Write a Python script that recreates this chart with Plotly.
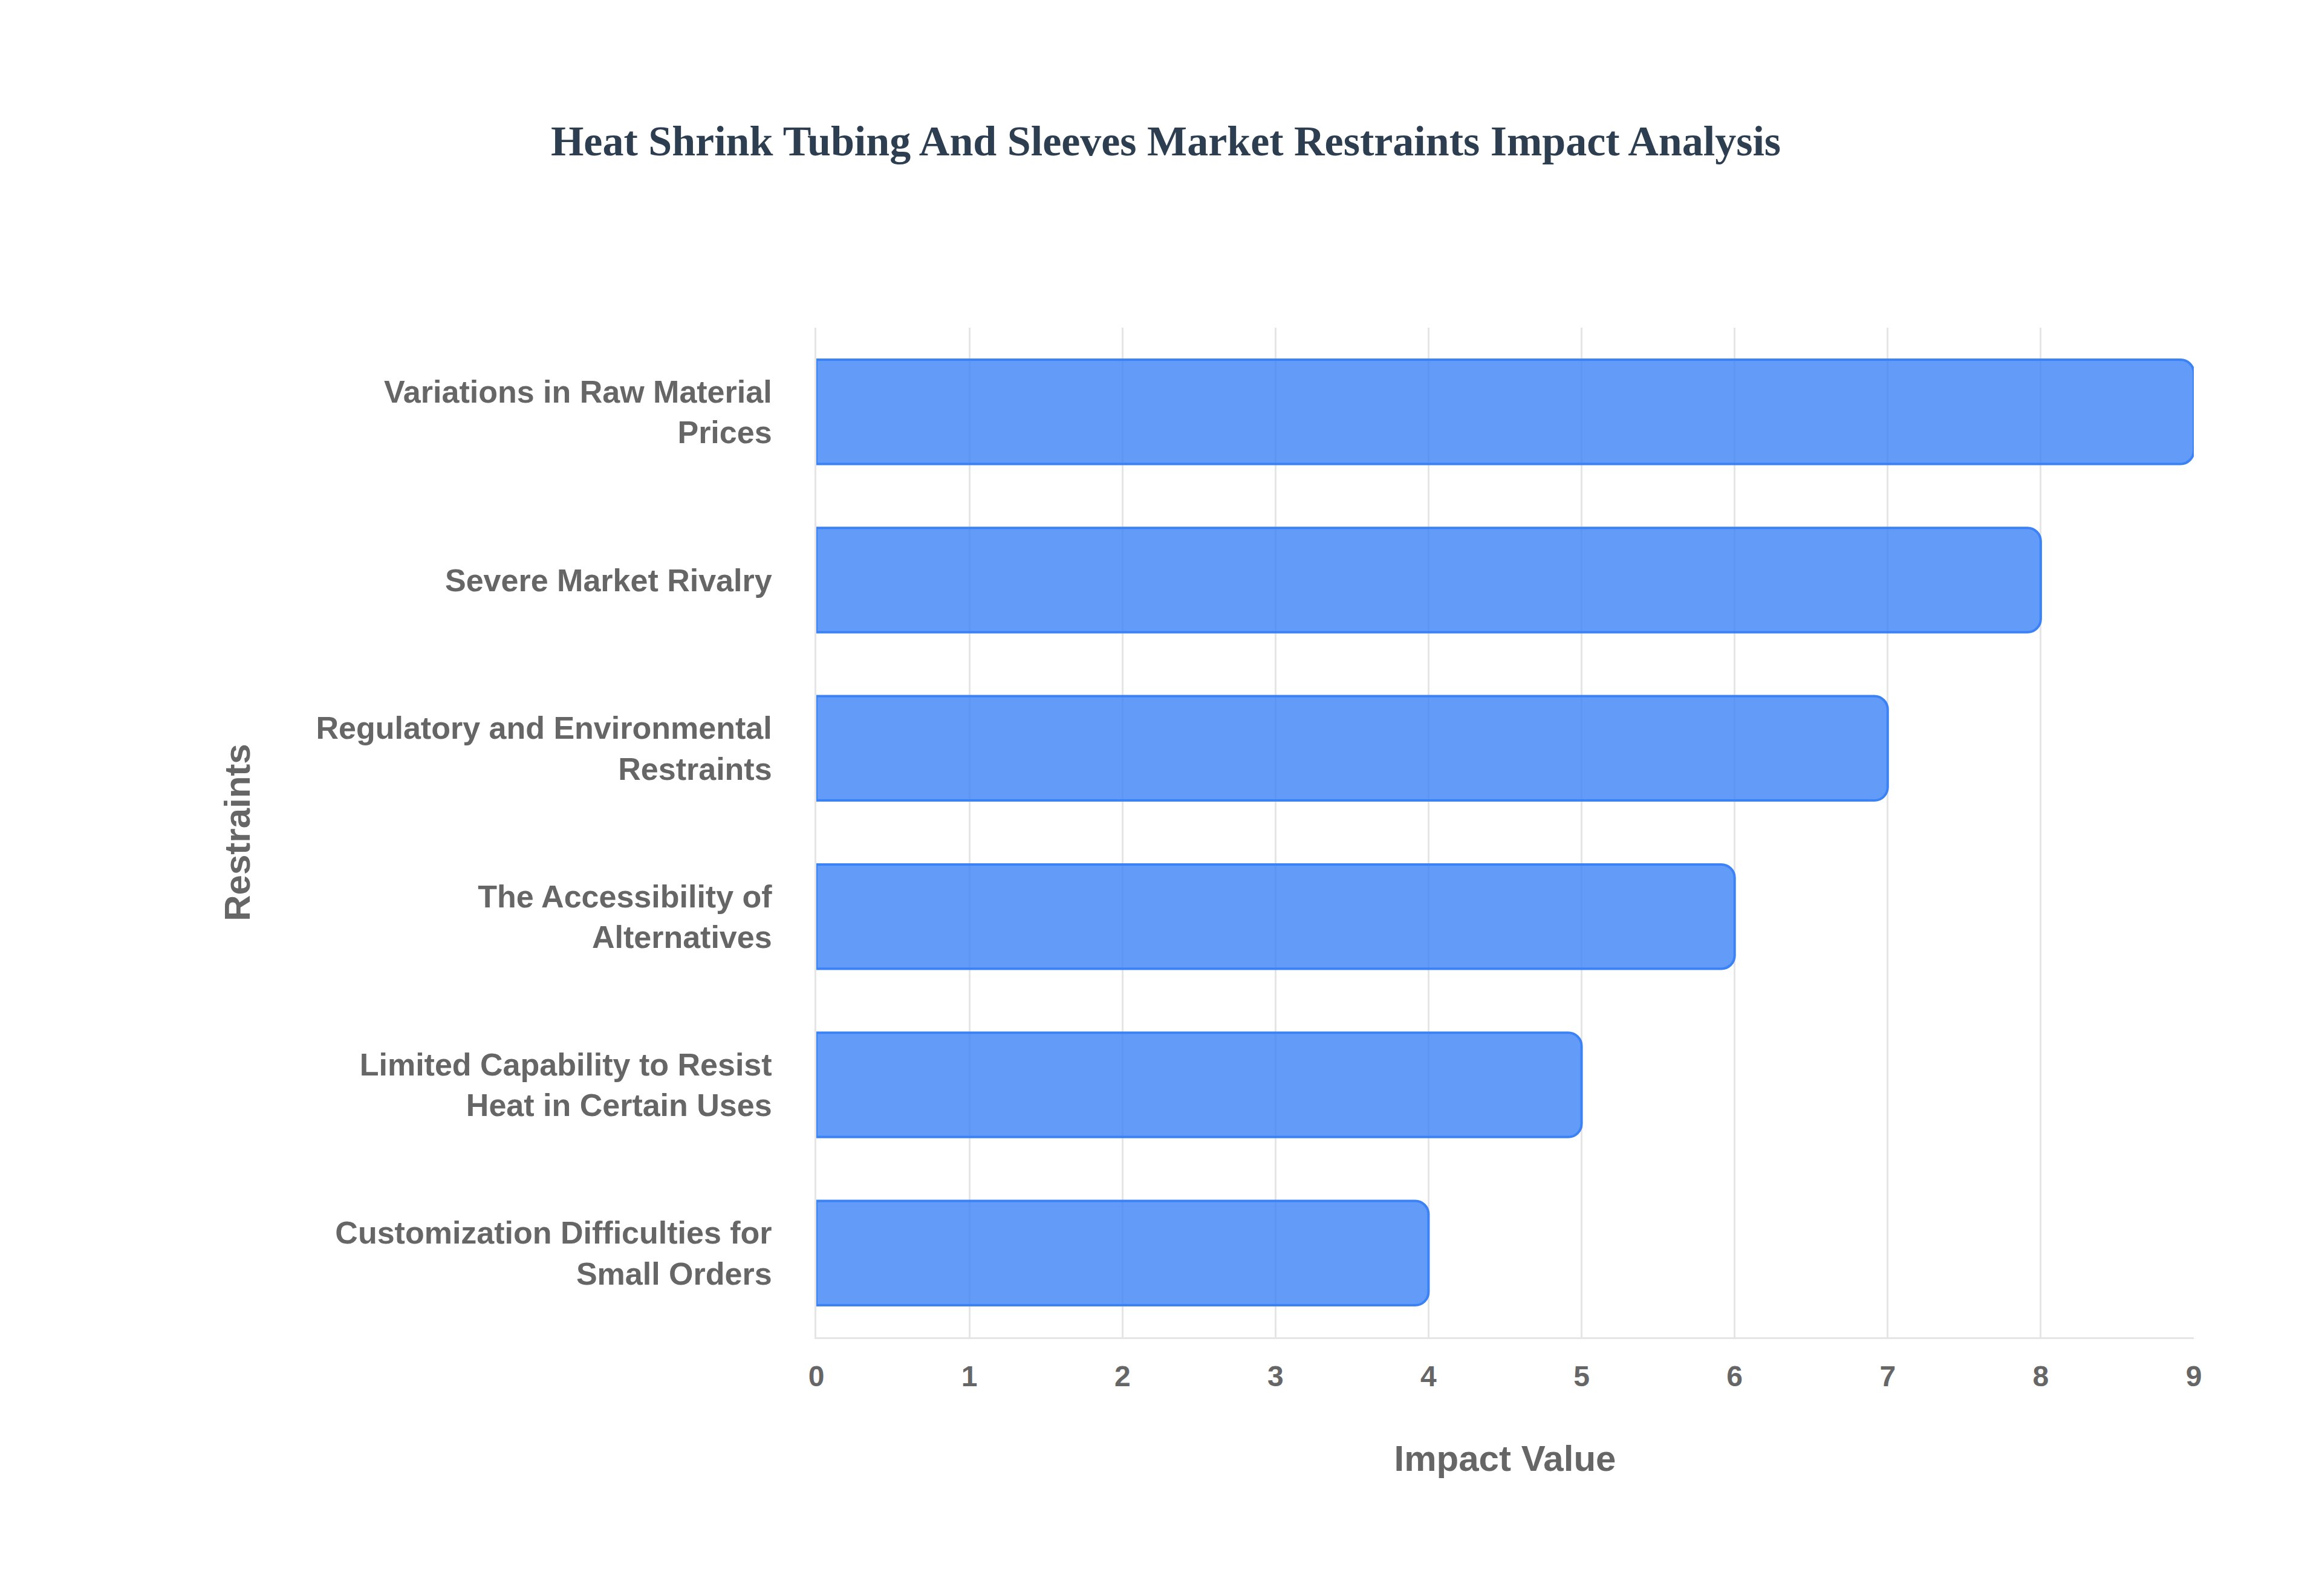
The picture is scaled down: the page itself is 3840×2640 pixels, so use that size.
import plotly.graph_objects as go

categories = ["Customization Difficulties for<br>Small Orders",
              "Limited Capability to Resist<br>Heat in Certain Uses",
              "The Accessibility of<br>Alternatives",
              "Regulatory and Environmental<br>Restraints",
              "Severe Market Rivalry",
              "Variations in Raw Material<br>Prices"]
values = [4, 5, 6, 7, 8, 9]

fig = go.Figure(go.Bar(
    x=values, y=categories, orientation="h",
    marker=dict(color="rgba(59,130,246,0.8)", line=dict(color="rgb(59,130,246)", width=4)),
    hoverinfo="x+y"))

fig.update_layout(
    width=3840, height=2640,
    paper_bgcolor="white", plot_bgcolor="white",
    margin=dict(l=1342, r=220, t=534, b=436),
    bargap=0.38, barcornerradius=22,
    title=dict(text="<b>Heat Shrink Tubing And Sleeves Market Restraints Impact Analysis</b>",
               x=0.5, xanchor="center", y=0.915, yanchor="middle",
               font=dict(family="Liberation Serif", size=70, color="#2c3e50")),
    font=dict(family="Liberation Sans", color="#666666"),
    xaxis=dict(title=dict(text="<b>Impact Value</b>", font=dict(size=60, color="#666666"), standoff=90),
               range=[0, 9], dtick=1, showgrid=True, gridcolor="#e5e5e5", gridwidth=3,
               tickfont=dict(size=48, color="#666666", family="Liberation Sans"),
               ticks="", showline=True, linecolor="#e5e5e5", linewidth=3, zeroline=False,
               ticklabelstandoff=20),
    yaxis=dict(title=dict(text="<b>Restraints</b>", font=dict(size=60, color="#666666"), standoff=90),
               tickfont=dict(size=52, color="#666666", family="Liberation Sans"),
               ticks="", showline=True, linecolor="#e5e5e5", linewidth=3,
               ticklabelstandoff=60),
    showlegend=False,
)
fig.update_yaxes(tickprefix="<b>", ticksuffix="</b>")
fig.update_xaxes(tickprefix="<b>", ticksuffix="</b>")
fig.write_html("out.html")
